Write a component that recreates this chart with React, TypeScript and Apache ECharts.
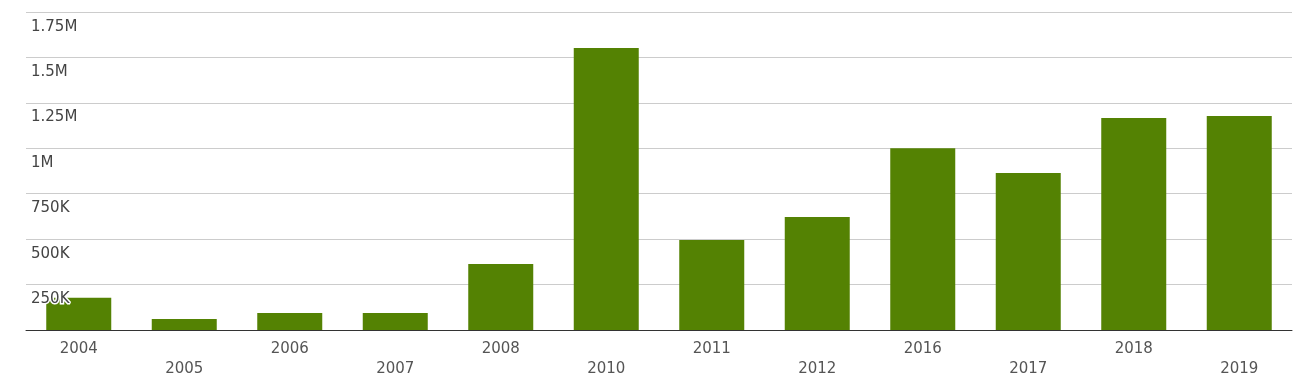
import React, { useEffect, useRef } from "react";
import * as echarts from "echarts";

const categories = ["2004", "2005", "2006", "2007", "2008", "2010", "2011", "2012", "2016", "2017", "2018", "2019"];
const values = [178000, 60000, 94000, 94000, 363000, 1552000, 495000, 622000, 1000000, 864000, 1167000, 1178000];
const yTickLabels: Record<number, string> = {
  250000: "250K",
  500000: "500K",
  750000: "750K",
  1000000: "1M",
  1250000: "1.25M",
  1500000: "1.5M",
  1750000: "1.75M",
};

export default function App() {
  const ref = useRef<HTMLDivElement>(null);
  useEffect(() => {
    if (!ref.current) return;
    const chart = echarts.init(ref.current, undefined, { renderer: "svg" });
    chart.setOption({
      animation: false,
      grid: { left: 26, right: 1, top: 12, bottom: 54, containLabel: false },
      xAxis: {
        type: "category",
        data: categories,
        axisLine: { lineStyle: { color: "#333", width: 1 } },
        axisTick: { show: false },
        z: 10,
        axisLabel: {
          interval: 0,
          fontFamily: "DejaVu Sans",
          fontSize: 15,
          lineHeight: 20,
          color: "#555",
          margin: 8,
          formatter: (v: string, i: number) => (i % 2 === 1 ? "\n" + v : v),
        },
      },
      yAxis: [
        {
          type: "value",
          min: 0,
          max: 1750000,
          interval: 250000,
          axisLine: { show: false },
          axisTick: { show: false },
          splitLine: { lineStyle: { color: "#ccc", width: 1 } },
          axisLabel: { show: false },
          z: 0,
        },
        {
          type: "value",
          position: "left",
          min: 0,
          max: 1750000,
          interval: 250000,
          axisLine: { show: false },
          axisTick: { show: false },
          splitLine: { show: false },
          z: 10,
          axisLabel: {
            inside: true,
            showMinLabel: false,
            margin: 5,
            align: "left",
            verticalAlign: "top",
            padding: [6, 0, 0, 0],
            fontFamily: "DejaVu Sans",
            fontSize: 15,
            color: "#444",
            textBorderColor: "#fff",
            textBorderWidth: 3,
            formatter: (v: number) => yTickLabels[v] ?? "",
          },
        },
      ],
      series: [
        {
          type: "bar",
          yAxisIndex: 0,
          data: values,
          barWidth: 65,
          itemStyle: { color: "#548203" },
          z: 2,
        },
      ],
    });
    return () => chart.dispose();
  }, []);
  return <div ref={ref} style={{ position: "fixed", left: 0, top: 0, width: 1293, height: 384 }} />;
}
